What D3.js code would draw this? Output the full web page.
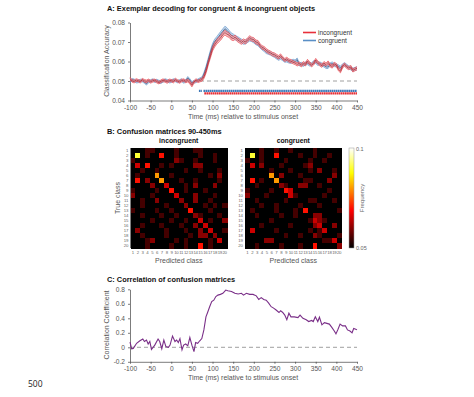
<!DOCTYPE html>
<html>
<head>
<meta charset="utf-8">
<script src="https://cdn.jsdelivr.net/npm/d3@7"></script>
<style>
body { margin: 0; background: #fff; }
svg { display: block; font-family: "Liberation Sans", Arial, sans-serif; }
.axis path, .axis line { stroke: #444; stroke-width: 0.7; }
.axis text { fill: #555; font-size: 6.6px; font-family: "Liberation Sans", Arial, sans-serif; }
.title { font-weight: bold; font-size: 7.4px; fill: #111; }
.label { font-size: 7px; fill: #555; }
</style>
</head>
<body>
<svg id="fig" width="474" height="397"></svg>
<script>
// ---- panel A: decoding accuracy (5 ms samples) ----
var accTime = [
  -100,-95,-90,-85,-80,-75,-70,-65,-60,-55,-50,-45,-40,-35,-30,-25,-20,-15,-10,-5,
  0,5,10,15,20,25,30,35,40,45,50,55,60,65,70,75,80,85,90,95,
  100,105,110,115,120,125,130,135,140,145,150,155,160,165,170,175,180,185,190,195,
  200,205,210,215,220,225,230,235,240,245,250,255,260,265,270,275,280,285,290,295,
  300,305,310,315,320,325,330,335,340,345,350,355,360,365,370,375,380,385,390,395,
  400,405,410,415,420,425,430,435,440,445,450];
var accIncongruent = [
  0.0512,0.0500,0.0497,0.0505,0.0502,0.0496,0.0507,0.0501,0.0498,0.0504,0.0496,0.0501,0.0504,0.0497,0.0491,0.0499,0.0504,0.0500,0.0495,0.0503,
  0.0502,0.0497,0.0507,0.0501,0.0495,0.0502,0.0505,0.0498,0.0502,0.0493,0.0478,0.0495,0.0505,0.0498,0.0503,0.0508,0.0525,0.0555,0.0595,0.0630,
  0.0665,0.0685,0.0700,0.0712,0.0722,0.0738,0.0748,0.0740,0.0735,0.0722,0.0718,0.0724,0.0712,0.0705,0.0698,0.0706,0.0700,0.0712,0.0722,0.0715,
  0.0712,0.0700,0.0698,0.0683,0.0672,0.0668,0.0658,0.0650,0.0645,0.0638,0.0635,0.0628,0.0622,0.0630,0.0617,0.0608,0.0614,0.0605,0.0602,0.0596,
  0.0592,0.0585,0.0590,0.0580,0.0592,0.0585,0.0603,0.0592,0.0580,0.0590,0.0608,0.0595,0.0585,0.0578,0.0592,0.0584,0.0595,0.0580,0.0574,0.0588,
  0.0582,0.0560,0.0550,0.0575,0.0584,0.0572,0.0566,0.0572,0.0554,0.0560,0.0565];
var accCongruent = [
  0.0498,0.0506,0.0504,0.0497,0.0498,0.0503,0.0502,0.0494,0.0486,0.0497,0.0500,0.0505,0.0499,0.0502,0.0497,0.0494,0.0500,0.0505,0.0502,0.0497,
  0.0499,0.0505,0.0503,0.0497,0.0500,0.0504,0.0496,0.0500,0.0516,0.0505,0.0490,0.0496,0.0498,0.0505,0.0510,0.0515,0.0540,0.0572,0.0610,0.0648,
  0.0680,0.0702,0.0715,0.0728,0.0742,0.0755,0.0768,0.0760,0.0748,0.0735,0.0730,0.0722,0.0718,0.0712,0.0705,0.0698,0.0700,0.0708,0.0715,0.0712,
  0.0705,0.0696,0.0690,0.0678,0.0668,0.0660,0.0650,0.0646,0.0642,0.0636,0.0630,0.0622,0.0615,0.0620,0.0612,0.0604,0.0605,0.0600,0.0598,0.0604,
  0.0600,0.0610,0.0585,0.0588,0.0583,0.0590,0.0592,0.0585,0.0586,0.0596,0.0598,0.0588,0.0590,0.0584,0.0580,0.0572,0.0572,0.0585,0.0590,0.0582,
  0.0580,0.0575,0.0568,0.0580,0.0586,0.0578,0.0570,0.0565,0.0558,0.0562,0.0565];
// half-width of the shaded error band, in units of 1e-4
var semIncongruent = [
  7,6,7,7,6,7,6,7,7,6,7,7,6,7,6,7,7,6,7,7,
  6,7,7,6,7,7,6,7,7,8,8,7,7,6,7,8,9,10,10,11,
  11,11,11,12,12,12,12,12,11,11,11,11,10,10,10,10,10,10,10,10,
  10,10,10,9,9,9,9,9,9,9,9,9,9,9,8,8,8,8,8,8,
  8,8,8,8,8,8,8,8,8,8,8,8,8,8,8,8,8,8,8,8,
  8,8,8,8,8,8,8,8,8,8,8];
var semCongruent = [
  6,7,6,7,7,6,7,6,7,6,7,6,7,7,7,7,6,7,6,7,
  7,6,7,6,7,7,7,7,7,7,7,6,7,6,7,7,9,10,11,11,
  12,12,12,13,13,13,13,13,12,12,11,11,11,10,10,10,10,10,10,10,
  10,10,9,9,9,9,9,9,9,9,9,9,9,9,8,8,8,8,8,8,
  8,8,8,8,8,8,8,8,8,8,8,8,8,8,8,8,8,8,8,8,
  8,8,8,8,8,8,8,8,8,8,8];
var sigCongruent = [[67, 74], [78, 450]];
var sigIncongruent = [[80, 450]];
var sigLevels = {congruent: 0.0449, incongruent: 0.0437};
var accTicks = [0.04, 0.05, 0.06, 0.07, 0.08];
var timeTicks = [-100, -50, 0, 50, 100, 150, 200, 250, 300, 350, 400, 450];
var chanceLevel = 0.05;

// ---- panel B: confusion matrices (each digit = one 0.005 step above 0.05) ----
var classes = d3.range(1, 21);
var confIncongruent = [
  "00011000010001100000",
  "08010040010000100100",
  "10000000021001000100",
  "03040010100002200000",
  "00100100000100100010",
  "01000600100000001020",
  "04020060001001000010",
  "00002003000102000200",
  "10000100400100010000",
  "20001000030002000100",
  "00100200002002001000",
  "00100001000200010101",
  "10000100100040001000",
  "00100010010002100010",
  "00001000100100301002",
  "00100010001002030000",
  "02000001000100203001",
  "00100001000010220200",
  "00012000010100001030",
  "00010000100100401000"
];
var confCongruent = [
  "00010010010000100000",
  "08010040000100100100",
  "10010000100001001000",
  "03020001000012000000",
  "00000100010001020010",
  "00000602000100000020",
  "04010060000011000200",
  "00100002100220010000",
  "10000100430000000100",
  "20001000031000001000",
  "00100000100001100010",
  "00010010000100010000",
  "01000010001040000001",
  "00100001001000220000",
  "00000100000001321000",
  "00010000010000230020",
  "03000010000001013000",
  "00000000100100210001",
  "00002200000000001130",
  "00100001000100400002"
];
var freqRange = [0.05, 0.1];
var freqStep = 0.005;

// ---- panel C: correlation of confusion matrices ----
var corrTime = [-100,-96,-92,-84,-76,-69,-65,-60,-56,-52,-48,-40,-32,-28,-23,-18,-13,-7,-3,3,9,13,17,21,26,30,35,40,45,50,55,59,64,69,74,79,84,88,93,98,103,108,113,119,125,132,137,146,154,162,170,175,182,190,198,206,212,218,224,230,236,242,248,254,261,265,270,275,280,285,290,298,307,312,319,327,333,340,344,349,355,359,365,371,377,383,389,395,399,404,409,415,422,427,433,438,442,447,450];
var corrValue = [0.07,-0.02,-0.015,0.055,0.09,0.115,0.08,0.10,0.045,0.08,-0.03,0.03,0.115,0.08,-0.02,0.10,0.01,0.0,0.03,0.155,0.08,0.10,0.065,0.12,-0.035,0.03,0.045,0.02,0.135,0.03,-0.06,0.065,0.055,0.09,0.12,0.24,0.42,0.48,0.56,0.63,0.65,0.70,0.72,0.73,0.745,0.79,0.78,0.77,0.745,0.735,0.745,0.72,0.745,0.73,0.73,0.71,0.66,0.685,0.66,0.65,0.61,0.56,0.54,0.515,0.48,0.505,0.48,0.445,0.38,0.47,0.42,0.42,0.41,0.445,0.40,0.38,0.355,0.37,0.355,0.42,0.355,0.415,0.31,0.34,0.33,0.32,0.275,0.225,0.185,0.25,0.32,0.295,0.295,0.24,0.225,0.20,0.26,0.25,0.24];
var corrTicks = [-0.2, 0, 0.2, 0.4, 0.6, 0.8];

var svg = d3.select("svg#fig");

// matlab "hot" colormap
function hot(t) {
  t = Math.max(0, Math.min(1, t));
  var r = Math.min(1, t / 0.375),
      g = Math.max(0, Math.min(1, (t - 0.375) / 0.375)),
      b = Math.max(0, Math.min(1, (t - 0.75) / 0.25));
  return d3.rgb(r * 255, g * 255, b * 255).toString();
}

function styleAxis(g) {
  g.attr("class", "axis");
}

function plain(d) { return String(d); }

// ================= A =================
svg.append("text").attr("class", "title").attr("x", 107).attr("y", 11)
   .text("A: Exemplar decoding for congruent & incongruent objects");

var x = d3.scaleLinear().domain([-100, 450]).range([130, 357]);
var yA = d3.scaleLinear().domain([0.04, 0.08]).range([100.5, 22.5]);

svg.append("g").attr("transform", "translate(0,100.5)")
   .call(d3.axisBottom(x).tickValues(timeTicks).tickSize(2).tickSizeOuter(0).tickFormat(plain))
   .call(styleAxis);
svg.append("g").attr("transform", "translate(130,0)")
   .call(d3.axisLeft(yA).tickValues(accTicks).tickSize(2).tickSizeOuter(0).tickFormat(d3.format(".2f")))
   .call(styleAxis);

svg.append("line").attr("x1", x(-100)).attr("x2", x(450))
   .attr("y1", yA(chanceLevel)).attr("y2", yA(chanceLevel))
   .attr("stroke", "#888").attr("stroke-width", 0.8).attr("stroke-dasharray", "4,3");

var seriesA = [
  {name: "congruent", mean: accCongruent, sem: semCongruent, edge: "#5a8fc6", fill: "#aecbe8", dark: "#2b4f7a"},
  {name: "incongruent", mean: accIncongruent, sem: semIncongruent, edge: "#e8303a", fill: "#f5a9ad", dark: "#a01d27"}
];

var bands = svg.selectAll(".scenario").data(seriesA).enter().append("g").attr("class", "scenario");

bands.append("path")
   .attr("fill", function(d) { return d.fill; })
   .attr("fill-opacity", 0.7)
   .attr("d", function(d) {
     return d3.area()
       .x(function(t) { return x(t); })
       .y0(function(t, i) { return yA(d.mean[i] - d.sem[i] * 1e-4); })
       .y1(function(t, i) { return yA(d.mean[i] + d.sem[i] * 1e-4); })(accTime);
   });
[-1, 1].forEach(function(s) {
  bands.append("path")
     .attr("fill", "none")
     .attr("stroke", function(d) { return d.edge; })
     .attr("stroke-width", 0.6)
     .attr("d", function(d) {
       return d3.line()
         .x(function(t) { return x(t); })
         .y(function(t, i) { return yA(d.mean[i] + s * d.sem[i] * 1e-4); })(accTime);
     });
});
bands.append("path")
   .attr("fill", "none")
   .attr("stroke", function(d) { return d.dark; })
   .attr("stroke-width", 0.7)
   .attr("d", function(d) {
     return d3.line()
       .x(function(t) { return x(t); })
       .y(function(t, i) { return yA(d.mean[i]); })(accTime);
   });

// significance markers
function sigBar(intervals, level, colour) {
  svg.append("g").selectAll("line").data(intervals).enter().append("line")
     .attr("x1", function(d) { return x(d[0]); })
     .attr("x2", function(d) { return x(d[1]); })
     .attr("y1", yA(level)).attr("y2", yA(level))
     .attr("stroke", colour).attr("stroke-width", 2.2)
     .attr("stroke-dasharray", "1.7,0.4");
}
sigBar(sigCongruent, sigLevels.congruent, "#3f78b8");
sigBar(sigIncongruent, sigLevels.incongruent, "#e52d35");

// legend
var legend = svg.append("g");
[["incongruent", "#e8303a"], ["congruent", "#5a8fc6"]].forEach(function(d, i) {
  legend.append("line").attr("x1", 303).attr("x2", 316)
        .attr("y1", 32.5 + i * 8).attr("y2", 32.5 + i * 8)
        .attr("stroke", d[1]).attr("stroke-width", 1.6);
  legend.append("text").attr("x", 318).attr("y", 35 + i * 8)
        .attr("font-size", 6.5).attr("fill", "#333").text(d[0]);
});

svg.append("text").attr("class", "label").attr("text-anchor", "middle")
   .attr("x", 243).attr("y", 119).text("Time (ms) relative to stimulus onset");
svg.append("text").attr("class", "label").attr("text-anchor", "middle")
   .attr("transform", "translate(109,61) rotate(-90)").text("Classification Accuracy");

// ================= B =================
svg.append("text").attr("class", "title").attr("x", 107).attr("y", 134)
   .text("B: Confusion matrices 90-450ms");

var matrices = [
  {name: "incongruent", rows: confIncongruent, x0: 130.5, x1: 227},
  {name: "congruent", rows: confCongruent, x0: 245, x1: 341.5}
];
var yM = d3.scaleBand().domain(classes).range([148, 248]);

matrices.forEach(function(m) {
  var xM = d3.scaleBand().domain(classes).range([m.x0, m.x1]);
  var cells = [];
  m.rows.forEach(function(row, r) {
    row.split("").forEach(function(ch, c) {
      cells.push({row: classes[r], col: classes[c], freq: freqRange[0] + (+ch) * freqStep});
    });
  });
  var g = svg.append("g");
  g.append("rect").attr("x", m.x0).attr("y", 148).attr("width", m.x1 - m.x0).attr("height", 100)
   .attr("fill", "#000");
  g.selectAll(".cell").data(cells).enter().append("rect")
   .attr("class", "cell")
   .attr("shape-rendering", "crispEdges")
   .attr("x", function(d) { return xM(d.col); })
   .attr("y", function(d) { return yM(d.row); })
   .attr("width", xM.bandwidth() + 0.5)
   .attr("height", yM.bandwidth() + 0.5)
   .attr("fill", function(d) { return hot((d.freq - freqRange[0]) / (freqRange[1] - freqRange[0])); });

  g.selectAll(".xt").data(classes).enter().append("text")
   .attr("x", function(d) { return xM(d) + xM.bandwidth() / 2; })
   .attr("y", 254).attr("text-anchor", "middle")
   .attr("font-size", 4.3).attr("fill", "#666").attr("letter-spacing", "-0.3")
   .text(function(d) { return d; });
  g.selectAll(".yt").data(classes).enter().append("text")
   .attr("x", m.x0 - 2).attr("y", function(d) { return yM(d) + yM.bandwidth() / 2 + 1.5; })
   .attr("text-anchor", "end").attr("font-size", 4.3).attr("fill", "#666")
   .text(function(d) { return d; });

  svg.append("text").attr("text-anchor", "middle").attr("font-weight", "bold")
     .attr("font-size", 6.8).attr("fill", "#111")
     .attr("x", (m.x0 + m.x1) / 2).attr("y", 143).text(m.name);
  svg.append("text").attr("class", "label").attr("text-anchor", "middle")
     .attr("x", (m.x0 + m.x1) / 2).attr("y", 262.5).text("Predicted class");
});

svg.append("text").attr("class", "label").attr("text-anchor", "middle")
   .attr("transform", "translate(120,198) rotate(-90)").text("True class");

// colorbar
var defs = svg.append("defs");
var grad = defs.append("linearGradient").attr("id", "hotgrad")
   .attr("x1", 0).attr("y1", 1).attr("x2", 0).attr("y2", 0);
d3.range(0, 1.0001, 0.125).forEach(function(t) {
  grad.append("stop").attr("offset", t).attr("stop-color", hot(t));
});
var cbScale = d3.scaleLinear().domain(freqRange).range([248, 148]);
svg.append("rect").attr("x", 349).attr("y", cbScale(freqRange[1]))
   .attr("width", 5).attr("height", cbScale(freqRange[0]) - cbScale(freqRange[1]))
   .attr("fill", "url(#hotgrad)").attr("stroke", "#999").attr("stroke-width", 0.5);
svg.append("text").attr("x", 356).attr("y", cbScale(0.1) + 3).attr("font-size", 5.5).attr("fill", "#666").text("0.1");
svg.append("text").attr("x", 356).attr("y", cbScale(0.05) + 2).attr("font-size", 5.5).attr("fill", "#666").text("0.05");
svg.append("text").attr("text-anchor", "middle").attr("font-size", 6).attr("fill", "#666")
   .attr("transform", "translate(364,198) rotate(-90)").text("Frequency");

// ================= C =================
svg.append("text").attr("class", "title").attr("x", 107).attr("y", 282)
   .text("C: Correlation of confusion matrices");

var yC = d3.scaleLinear().domain([-0.2, 0.8]).range([361.8, 289.3]);

svg.append("g").attr("transform", "translate(0,361.8)")
   .call(d3.axisBottom(x).tickValues(timeTicks).tickSize(2).tickSizeOuter(0).tickFormat(plain))
   .call(styleAxis);
svg.append("g").attr("transform", "translate(130,0)")
   .call(d3.axisLeft(yC).tickValues(corrTicks).tickSize(2).tickSizeOuter(0).tickFormat(function(d) { return String(Math.round(d * 10) / 10); }))
   .call(styleAxis);

svg.append("line").attr("x1", x(-100)).attr("x2", x(450))
   .attr("y1", yC(0)).attr("y2", yC(0))
   .attr("stroke", "#888").attr("stroke-width", 0.8).attr("stroke-dasharray", "4,3");

svg.append("path")
   .attr("fill", "none").attr("stroke", "#7a2f88").attr("stroke-width", 1.1)
   .attr("d", d3.line()
     .x(function(t) { return x(t); })
     .y(function(t, i) { return yC(corrValue[i]); })(corrTime));

svg.append("text").attr("class", "label").attr("text-anchor", "middle")
   .attr("x", 243).attr("y", 380).text("Time (ms) relative to stimulus onset");
svg.append("text").attr("class", "label").attr("text-anchor", "middle")
   .attr("transform", "translate(109,325) rotate(-90)").text("Correlation Coefficient");

svg.append("text").attr("x", 28).attr("y", 387).attr("font-size", 8.5)
   .attr("font-family", "'Open Sans', sans-serif").attr("fill", "#222").text("500");
</script>
</body>
</html>
